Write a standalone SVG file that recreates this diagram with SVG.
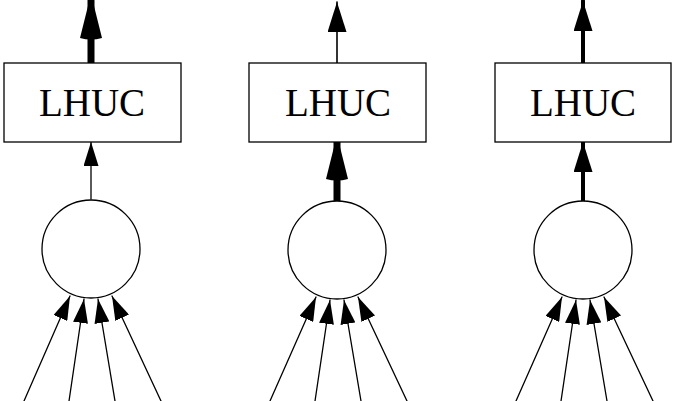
<svg xmlns="http://www.w3.org/2000/svg" width="676" height="401" viewBox="0 0 676 401">
<style>
.box{fill:#fff;stroke:#000;stroke-width:1.3}
.lbl{font-family:"Liberation Serif","DejaVu Serif",serif;font-size:39px;text-anchor:middle}
.c{stroke:#000;fill:none;stroke-linecap:round}
</style>
<defs>
<marker id="aS" markerUnits="userSpaceOnUse" viewBox="0 0 24 15" refX="24" refY="7.5" markerWidth="24" markerHeight="15" orient="auto"><path d="M0,0L24,7.5L0,15z"/></marker>
<marker id="aM" markerUnits="userSpaceOnUse" viewBox="0 0 30 19" refX="30" refY="9.5" markerWidth="30" markerHeight="19" orient="auto"><path d="M0,0L30,9.5L0,19z"/></marker>
<marker id="aL" markerUnits="userSpaceOnUse" viewBox="0 0 40 26" refX="40" refY="13" markerWidth="40" markerHeight="26" orient="auto"><path d="M3,2Q0,13 3,24L39,15Q41,13 39,11z"/></marker>
</defs>
<g id="connectors">
<line class="c" x1="91" y1="62" x2="91" y2="1" stroke-width="7" marker-end="url(#aL)"/>
<line class="c" x1="91" y1="199" x2="91" y2="142" stroke-width="1.3" marker-end="url(#aS)"/>
<line class="c" x1="24" y1="401" x2="70" y2="296" stroke-width="1.3" marker-end="url(#aS)"/>
<line class="c" x1="69" y1="401" x2="84" y2="299" stroke-width="1.3" marker-end="url(#aS)"/>
<line class="c" x1="115" y1="401" x2="98" y2="299" stroke-width="1.3" marker-end="url(#aS)"/>
<line class="c" x1="161" y1="401" x2="112" y2="296" stroke-width="1.3" marker-end="url(#aS)"/>

<line class="c" x1="337" y1="63" x2="337" y2="2" stroke-width="1.6" marker-end="url(#aM)"/>
<line class="c" x1="337" y1="201" x2="337" y2="142" stroke-width="7" marker-end="url(#aL)"/>
<line class="c" x1="270" y1="401" x2="316" y2="297" stroke-width="1.3" marker-end="url(#aS)"/>
<line class="c" x1="315" y1="401" x2="330" y2="300" stroke-width="1.3" marker-end="url(#aS)"/>
<line class="c" x1="361" y1="401" x2="344" y2="300" stroke-width="1.3" marker-end="url(#aS)"/>
<line class="c" x1="407" y1="401" x2="358" y2="297" stroke-width="1.3" marker-end="url(#aS)"/>

<line class="c" x1="583" y1="63" x2="583" y2="1" stroke-width="4" marker-end="url(#aM)"/>
<line class="c" x1="583" y1="201" x2="583" y2="142" stroke-width="4" marker-end="url(#aM)"/>
<line class="c" x1="516" y1="401" x2="562" y2="297" stroke-width="1.3" marker-end="url(#aS)"/>
<line class="c" x1="561" y1="401" x2="576" y2="300" stroke-width="1.3" marker-end="url(#aS)"/>
<line class="c" x1="607" y1="401" x2="590" y2="300" stroke-width="1.3" marker-end="url(#aS)"/>
<line class="c" x1="653" y1="401" x2="604" y2="297" stroke-width="1.3" marker-end="url(#aS)"/>
</g>
<g id="lhuc1"><rect class="box" x="4" y="63" width="177" height="79"/><text class="lbl" x="92" y="116">LHUC</text></g>
<g id="lhuc2"><rect class="box" x="249" y="63" width="177" height="79"/><text class="lbl" x="338" y="116">LHUC</text></g>
<g id="lhuc3"><rect class="box" x="495" y="63" width="176" height="79"/><text class="lbl" x="583" y="116">LHUC</text></g>
<g id="n1"><circle class="box" cx="91" cy="249" r="49"/></g>
<g id="n2"><circle class="box" cx="337" cy="250" r="49"/></g>
<g id="n3"><circle class="box" cx="583" cy="250" r="49"/></g>
</svg>
